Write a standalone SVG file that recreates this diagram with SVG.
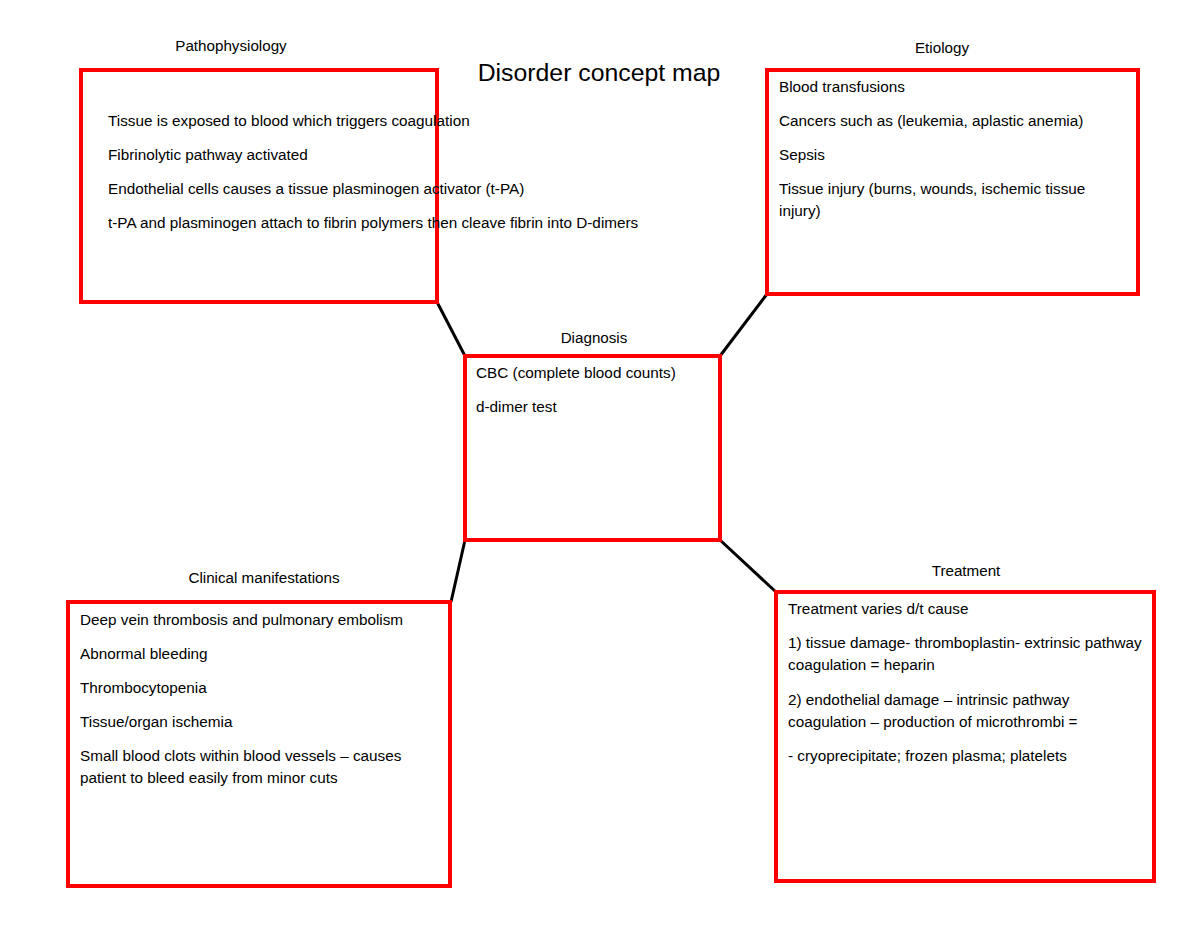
<svg xmlns="http://www.w3.org/2000/svg" width="1200" height="927" viewBox="0 0 1200 927">
<style>
.box{fill:none;stroke:#ff0000;stroke-width:4}
.t{font-family:"Liberation Sans",Arial,sans-serif;font-size:15.3px;fill:#000}
.h{font-family:"Liberation Sans",Arial,sans-serif;font-size:15.2px;fill:#000;text-anchor:middle}
.title{font-family:"Liberation Sans",Arial,sans-serif;font-size:24.8px;fill:#000;text-anchor:middle}
.c{stroke:#000;stroke-width:3;fill:none}
</style>
<rect width="1200" height="927" fill="#fff"/>
<text class="title" x="599" y="81">Disorder concept map</text>
<g id="connectors">
<line class="c" x1="437" y1="302" x2="465" y2="356"/>
<line class="c" x1="720" y1="356" x2="767" y2="294"/>
<line class="c" x1="465" y1="540" x2="451" y2="602"/>
<line class="c" x1="720" y1="540" x2="776" y2="592"/>
</g>
<g id="pathophysiology">
<text class="h" x="231" y="51">Pathophysiology</text>
<rect class="box" x="81" y="70" width="356" height="232"/>
<text class="t" x="108" y="126">Tissue is exposed to blood which triggers coagulation</text>
<text class="t" x="108" y="160">Fibrinolytic pathway activated</text>
<text class="t" x="108" y="194">Endothelial cells causes a tissue plasminogen activator (t-PA)</text>
<text class="t" x="108" y="228">t-PA and plasminogen attach to fibrin polymers then cleave fibrin into D-dimers</text>
</g>
<g id="etiology">
<text class="h" x="942" y="53">Etiology</text>
<rect class="box" x="767" y="70" width="371" height="224"/>
<text class="t" x="779" y="92">Blood transfusions</text>
<text class="t" x="779" y="126">Cancers such as (leukemia, aplastic anemia)</text>
<text class="t" x="779" y="160">Sepsis</text>
<text class="t" x="779" y="194">Tissue injury (burns, wounds, ischemic tissue</text>
<text class="t" x="779" y="216">injury)</text>
</g>
<g id="diagnosis">
<text class="h" x="594" y="343">Diagnosis</text>
<rect class="box" x="465" y="356" width="255" height="184"/>
<text class="t" x="476" y="378">CBC (complete blood counts)</text>
<text class="t" x="476" y="412">d-dimer test</text>
</g>
<g id="clinical">
<text class="h" x="264" y="583">Clinical manifestations</text>
<rect class="box" x="68" y="602" width="382" height="284"/>
<text class="t" x="80" y="625">Deep vein thrombosis and pulmonary embolism</text>
<text class="t" x="80" y="659">Abnormal bleeding</text>
<text class="t" x="80" y="693">Thrombocytopenia</text>
<text class="t" x="80" y="727">Tissue/organ ischemia</text>
<text class="t" x="80" y="761">Small blood clots within blood vessels – causes</text>
<text class="t" x="80" y="783">patient to bleed easily from minor cuts</text>
</g>
<g id="treatment">
<text class="h" x="966" y="576">Treatment</text>
<rect class="box" x="776" y="592" width="378" height="289"/>
<text class="t" x="788" y="614">Treatment varies d/t cause</text>
<text class="t" x="788" y="648">1) tissue damage- thromboplastin- extrinsic pathway</text>
<text class="t" x="788" y="670">coagulation = heparin</text>
<text class="t" x="788" y="705">2) endothelial damage – intrinsic pathway</text>
<text class="t" x="788" y="727">coagulation – production of microthrombi =</text>
<text class="t" x="788" y="761">- cryoprecipitate; frozen plasma; platelets</text>
</g>
</svg>
